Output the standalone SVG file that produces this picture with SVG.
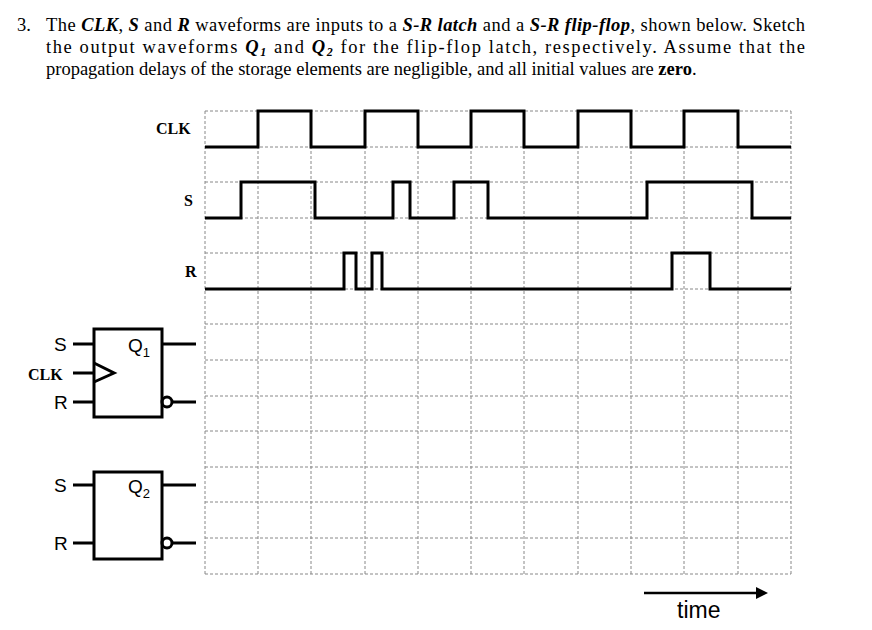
<svg xmlns="http://www.w3.org/2000/svg" width="872" height="630" viewBox="0 0 872 630">
<style>
.t{font-family:"Liberation Serif",serif;font-size:18.5px;fill:#000}
.bi{font-weight:bold;font-style:italic}
.lb{font-family:"Liberation Serif",serif;font-size:16px;font-weight:bold}
.sf{font-family:"Liberation Sans",sans-serif;font-size:19px}
.g{stroke:#888;stroke-width:1;stroke-dasharray:3,2;fill:none}
.w{stroke:#000;stroke-width:3;fill:none}
.b{stroke:#000;stroke-width:3;fill:none}
</style>
<rect width="872" height="630" fill="#fff"/>
<g id="title">
<text class="t" x="17" y="31">3.</text>
<text class="t" x="46" y="31" textLength="759" lengthAdjust="spacing">The <tspan class="bi">CLK</tspan>, <tspan class="bi">S</tspan> and <tspan class="bi">R</tspan> waveforms are inputs to a <tspan class="bi">S-R latch</tspan> and a <tspan class="bi">S-R flip-flop</tspan>, shown below. Sketch</text>
<text class="t" x="46" y="53" textLength="759" lengthAdjust="spacing">the output waveforms <tspan class="bi">Q</tspan><tspan class="bi" font-size="12" dy="3">1</tspan><tspan dy="-3"> and </tspan><tspan class="bi">Q</tspan><tspan class="bi" font-size="12" dy="3">2</tspan><tspan dy="-3"> for the flip-flop latch, respectively. Assume that the</tspan></text>
<text class="t" x="46" y="75">propagation delays of the storage elements are negligible, and all initial values are <tspan font-weight="bold">zero</tspan>.</text>
</g>
<g id="grid" class="g">
<path d="M205,111V574M258,111V574M311,111V574M365,111V574M418,111V574M471,111V574M524,111V574M578,111V574M631,111V574M684,111V574M738,111V574M791,111V574"/>
<path d="M205,111H791M205,147H791M205,182H791M205,218H791M205,253H791M205,289H791M205,324H791M205,360H791M205,396H791M205,431H791M205,467H791M205,502H791M205,538H791M205,574H791"/>
</g>
<g id="labels">
<text class="lb" x="156" y="134">CLK</text>
<text class="lb" x="184" y="206">S</text>
<text class="lb" x="185" y="277">R</text>
</g>
<g id="waveforms">
<path class="w" d="M205,147H258V111H311V147H365V111H418V147H471V111H524V147H578V111H631V147H684V111H738V147H791"/>
<path class="w" d="M205,218H241V182H315V218H393V182H410V218H454V182H488V218H647V182H752V218H791"/>
<path class="w" d="M205,289H344V253H356V289H372V253H382V289H672V253H710V289H791"/>
</g>
<g id="ff1">
<rect class="b" x="94" y="329" width="68" height="88"/>
<path class="b" d="M73,344H94M73,373H94M73,402H94M162,344H196M172,402H196"/>
<path class="b" d="M94,363L114,373L94,382"/>
<circle class="b" cx="167" cy="402" r="5" stroke-width="2"/>
<text class="sf" x="54" y="351">S</text>
<text class="lb" x="28" y="380">CLK</text>
<text class="sf" x="54" y="409">R</text>
<text class="sf" x="128" y="352">Q<tspan font-size="13" dy="5">1</tspan></text>
</g>
<g id="ff2">
<rect class="b" x="94" y="472" width="68" height="87"/>
<path class="b" d="M73,485H94M73,543H94M162,485H196M172,543H196"/>
<circle class="b" cx="167" cy="543" r="5" stroke-width="2"/>
<text class="sf" x="54" y="492">S</text>
<text class="sf" x="54" y="550">R</text>
<text class="sf" x="128" y="493">Q<tspan font-size="13" dy="5">2</tspan></text>
</g>
<g id="time">
<path d="M644,593H757" stroke="#000" stroke-width="2.5"/>
<path d="M768,593L756,587V599Z" fill="#000"/>
<text x="677" y="618" font-family="Liberation Sans,sans-serif" font-size="23">time</text>
</g>
</svg>
